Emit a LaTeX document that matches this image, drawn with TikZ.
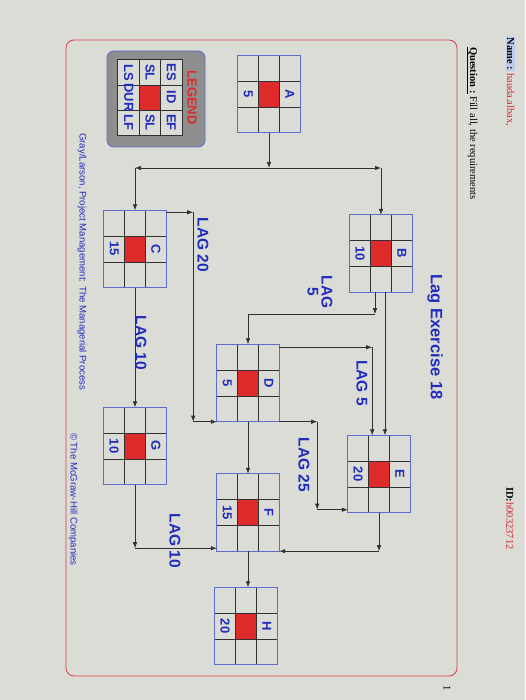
\documentclass[tikz,border=0pt]{standalone}
\usepackage{fontspec}
\setmainfont{Liberation Serif}
\setsansfont{Liberation Sans}
\usetikzlibrary{arrows.meta,calc,positioning}
\definecolor{PaperGray}{RGB}{220,220,214}
\definecolor{FrameRed}{RGB}{214,64,74}
\definecolor{BoxBlue}{RGB}{92,110,205}
\definecolor{LabelBlue}{RGB}{32,44,190}
\definecolor{CellRed}{RGB}{222,42,42}
\definecolor{LineGray}{RGB}{48,48,48}
\definecolor{LegendGray}{RGB}{142,142,142}
\definecolor{NameRed}{RGB}{205,42,52}
\definecolor{MarkBlue}{RGB}{188,204,236}
\newcommand{\gridlines}[1]{%
  \draw[LineGray,line width=0.6pt] ($(#1.north west)!1/3!(#1.north east)$) -- ($(#1.south west)!1/3!(#1.south east)$);
  \draw[LineGray,line width=0.6pt] ($(#1.north west)!2/3!(#1.north east)$) -- ($(#1.south west)!2/3!(#1.south east)$);
  \draw[LineGray,line width=0.6pt] ($(#1.north west)!1/3!(#1.south west)$) -- ($(#1.north east)!1/3!(#1.south east)$);
  \draw[LineGray,line width=0.6pt] ($(#1.north west)!2/3!(#1.south west)$) -- ($(#1.north east)!2/3!(#1.south east)$);}
\newcommand{\actbox}[4]{%
  \node[actnode] (#1) at (#2) {};
  \fill[CellRed] ($(#1.north west)!1/3!(#1.south east)$) rectangle ($(#1.north west)!2/3!(#1.south east)$);
  \gridlines{#1}
  \draw[BoxBlue,line width=0.9pt] (#1.north west) rectangle (#1.south east);
  \node[tag] (#1-id) at ($(#1.center)!2/3!(#1.east)$) {#3};
  \node[tag] (#1-dur) at ($(#1.center)!2/3!(#1.west)$) {#4};}

\begin{document}
\begin{tikzpicture}[x=1pt,y=-1pt,>={Latex[length=6pt,width=4.5pt]},
  actnode/.style={minimum width=62pt,minimum height=77pt,inner sep=0pt},
  tag/.style={font=\sffamily\bfseries\fontsize{13}{14}\selectfont,text=LabelBlue,rotate=-90,inner sep=0pt},
  lag/.style={font=\sffamily\bfseries\fontsize{15.5}{14}\selectfont,text=LabelBlue,rotate=-90,align=center,inner sep=1pt},
  head/.style={font=\fontsize{10.5}{12}\selectfont,rotate=-90,inner sep=0pt},
  foot/.style={font=\sffamily\fontsize{9.6}{10}\selectfont,text=LabelBlue,rotate=-90,inner sep=0pt},
  link/.style={->,draw=LineGray,line width=0.7pt},
  line/.style={draw=LineGray,line width=0.7pt}]
\fill[PaperGray] (0,0) rectangle (525,700);
\useasboundingbox (0,0) rectangle (525,700);
% page header
\node[head,anchor=west] (name) at (510,37) {{\setlength{\fboxsep}{0.5pt}\colorbox{MarkBlue}{\textbf{Name :}}} \textcolor{NameRed}{hauda.albax,}};
\node[head,anchor=west] (question) at (472,47) {\underline{\textbf{Question :}} Fill all, the requirements};
\node[head,anchor=west] (id) at (510,487) {\textbf{ID:}\textcolor{NameRed}{h00323712}};
\node[head] (page) at (447,688) {1};
% slide frame
\draw[FrameRed,line width=0.8pt,rounded corners=8pt] (66,40) rectangle (457,676);
\node[lag,font=\sffamily\bfseries\fontsize{16.5}{18}\selectfont] (title) at (435,337) {Lag Exercise 18};
% legend
\node[draw=BoxBlue,fill=LegendGray,line width=0.9pt,rounded corners=7pt,minimum width=98pt,minimum height=96pt] (legend) at (156,99) {};
\node[fill=PaperGray,minimum width=64pt,minimum height=75pt,inner sep=0pt] (lgrid) at (150,97.5) {};
\fill[CellRed] ($(lgrid.north west)!1/3!(lgrid.south east)$) rectangle ($(lgrid.north west)!2/3!(lgrid.south east)$);
\gridlines{lgrid}
\draw[LineGray,line width=0.7pt] (lgrid.north west) rectangle (lgrid.south east);
\node[tag,text=CellRed] (legend-title) at (192,97.5) {LEGEND};
\node[tag] (l-es) at ($(lgrid.center)+(21.3,-25)$) {ES};
\node[tag] (l-id) at ($(lgrid.center)+(21.3,0)$) {ID};
\node[tag] (l-ef) at ($(lgrid.center)+(21.3,25)$) {EF};
\node[tag] (l-sl1) at ($(lgrid.center)+(0,-25)$) {SL};
\node[tag] (l-sl2) at ($(lgrid.center)+(0,25)$) {SL};
\node[tag] (l-ls) at ($(lgrid.center)+(-21.3,-25)$) {LS};
\node[tag] (l-dur) at ($(lgrid.center)+(-21.3,0)$) {DUR};
\node[tag] (l-lf) at ($(lgrid.center)+(-21.3,25)$) {LF};
% activities
\actbox{A}{269,94}{A}{5}
\actbox{B}{381,253.5}{B}{10}
\actbox{C}{135,249}{C}{15}
\actbox{D}{248,383}{D}{5}
\actbox{E}{379,474}{E}{20}
\actbox{G}{135,446}{G}{10}
\actbox{F}{248,512.5}{F}{15}
\actbox{H}{246,626}{H}{20}
% A to B and C
\coordinate (a1) at (A.south |- 0,168);
\coordinate (a2) at (C.north |- a1);
\coordinate (a3) at (B.north |- a1);
\draw[link] (A.south) -- (a1);
\draw[link] (a1) -- (a2);\draw[link] (a2) -- (C.north);
\draw[link] (a1) -- (a3);\draw[link] (a3) -- (B.north);
% B to D and E
\coordinate (b1) at ($(B.south)+(-6,22)$);
\coordinate (b2) at (D.north |- b1);
\coordinate (b3) at ($(B.south)+(4,0)$);
\draw[link] ($(B.south)+(-6,0)$) -- (b1);\draw[line] (b1) -- (b2);\draw[link] (b2) -- (D.north);
\draw[link] (b3) -- (b3 |- E.north);
\node[lag] (lag-bd) at (320,292) {LAG\\5};
% C to D and G
\coordinate (c1) at ($(C.north east)+(27,2)$);
\coordinate (c2) at (c1 |- D.south west);
\draw[link] ($(C.north east)+(0,2)$) -- (c1);\draw[link] (c1) -- (c2);\draw[link] (c2) -- (D.south west);
\node[lag] (lag-cd) at (203,245) {LAG 20};
\draw[link] (C.south) -- (G.north);
\node[lag] (lag-cg) at (141,343) {LAG 10};
% D to E and F
\coordinate (d1) at ($(D.north east)+(93,3)$);
\draw[link] ($(D.north east)+(0,3)$) -- (d1);\draw[link] (d1) -- (d1 |- E.north);
\node[lag] (lag-de) at (362,383) {LAG 5};
\coordinate (d2) at ($(D.south east)+(38,0)$);
\coordinate (e1) at ($(E.south west)+(0,-3)$);
\coordinate (d3) at (d2 |- e1);
\draw[link] (D.south east) -- (d2);\draw[link] (d2) -- (d3);\draw[link] (d3) -- (e1);
\node[lag] (lag-de2) at (304,465) {LAG 25};
\draw[link] (D.south) -- (F.north);
% G and E to F, F to H
\coordinate (f1) at ($(F.south west)+(0,-3)$);
\coordinate (g1) at (G.south |- f1);
\draw[link] (G.south) -- (g1);\draw[link] (g1) -- (f1);
\node[lag] (lag-gf) at (175,541) {LAG 10};
\coordinate (e3) at (E.south |- F.south east);
\draw[link] (E.south) -- (e3);\draw[link] (e3) -- (F.south east);
\draw[link] (F.south) -- (F.south |- H.north);
% credits
\node[foot,anchor=west] (credit) at (82,133) {Gray/Larson, Project Management: The Managerial Process};
\node[foot,anchor=west] (copyright) at (73,433) {\textcopyright{} The McGraw-Hill Companies};
\end{tikzpicture}
\end{document}
